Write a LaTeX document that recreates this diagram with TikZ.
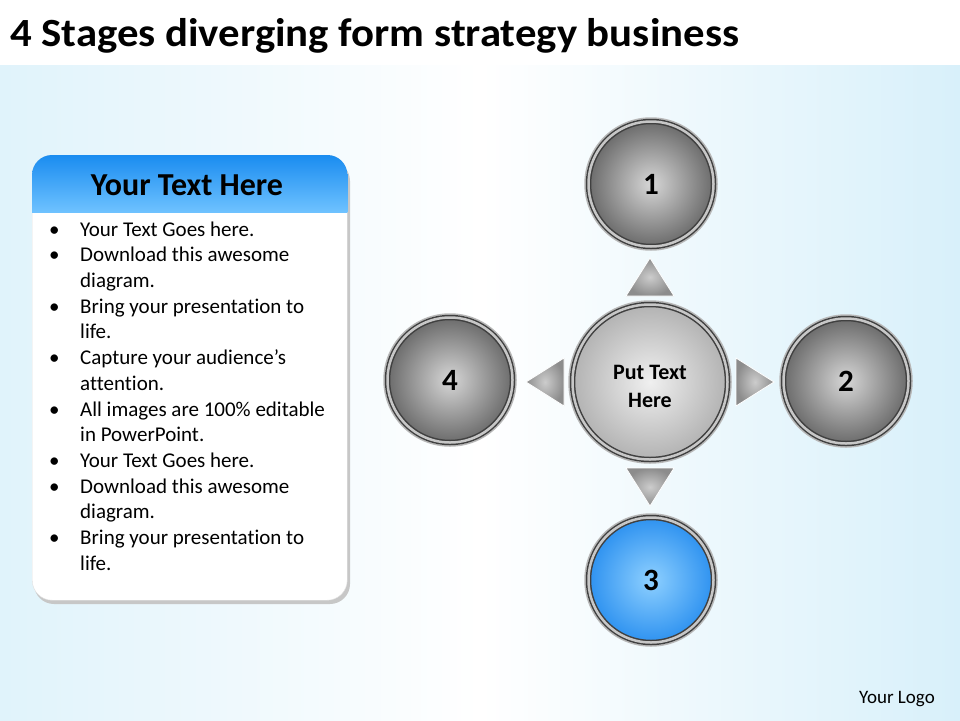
\documentclass[tikz,border=0pt]{standalone}
\usepackage{fontspec}
\setmainfont{Carlito}[Ligatures=NoCommon]
\usetikzlibrary{calc}
\definecolor{bgblue}{HTML}{D8F0FA}
\definecolor{headtop}{HTML}{1A8CF0}
\definecolor{headbot}{HTML}{6EC2FF}
\definecolor{ballblue}{HTML}{2E92F0}
\definecolor{ballhi}{HTML}{8ED0FF}

\tikzset{
  stage/.style={circle, minimum size=#1, inner sep=0pt, draw=black!75,
    line width=1.5pt, double=black!22, double distance=2.5pt},
  greyball/.style={shade, inner color=black!16, outer color=black!58},
  blueball/.style={shade, inner color=ballhi, outer color=ballblue},
  midball/.style={shade, inner color=black!6, outer color=black!30},
  halo/.style={draw=black!28, line width=1.5pt},
  pointer/.style={shade, inner color=black!20, outer color=black!45, draw=white, line width=0.8pt},
  numtext/.style={font=\bfseries\fontsize{31}{31}\selectfont},
}

\begin{document}
\begin{tikzpicture}[x=1pt,y=-1pt]
  %%%%% BACKGROUND %%%%%
  \useasboundingbox (0,0) rectangle (960,720);
  \shade[left color=bgblue!80, right color=bgblue, middle color=white] (0,65) rectangle (960,720);
  \fill[white] (0,0) rectangle (960,65);

  \node[anchor=base west, inner sep=0pt, font=\bfseries\fontsize{40}{40}\selectfont] (title) at (10,46)
    {\scalebox{1.07}[1]{4 Stages diverging form strategy business}};

  %%%%% TEXT PANEL %%%%%
  \fill[black!22, rounded corners=20] (34,161) rectangle (350,604);
  \node[draw=black!12, fill=white, rounded corners=20, anchor=north west,
    minimum width=315, minimum height=445] (panel) at (32,155) {};
  \begin{scope}
    \clip[rounded corners=20] (panel.north west) rectangle (panel.south east);
    \shade[top color=headtop, bottom color=headbot] (panel.north west) rectangle ($(panel.north east)+(0,57)$);
  \end{scope}
  \node[font=\bfseries\fontsize{32}{32}\selectfont] (head) at (187,185) {Your Text Here};

  \node[anchor=north west, inner sep=0pt, font=\fontsize{21}{25.7}\selectfont] (list) at (49,218) {%
    \begin{tabular}{@{}p{31pt}@{}l@{}}
      \textbullet & Your Text Goes here.\\
      \textbullet & Download this awesome\\
                  & diagram.\\
      \textbullet & Bring your presentation to\\
                  & life.\\
      \textbullet & Capture your audience’s\\
                  & attention.\\
      \textbullet & All images are 100\% editable\\
                  & in PowerPoint.\\
      \textbullet & Your Text Goes here.\\
      \textbullet & Download this awesome\\
                  & diagram.\\
      \textbullet & Bring your presentation to\\
                  & life.
    \end{tabular}};

  %%%%% STAGES %%%%%
  \coordinate (c0) at (650,382);
  \coordinate (c1) at (651,184);
  \coordinate (c2) at (846,381);
  \coordinate (c3) at (651,580);
  \coordinate (c4) at (450,380);

  \draw[halo] (c0) circle (81);
  \foreach \c in {c1,c2,c3,c4}
    \draw[halo] (\c) circle (66);

  \foreach \a in {0,90,180,270}{
    \begin{scope}[shift={(c0)}, rotate=\a]
      \shade[pointer] (86,-24) -- (124,0) -- (86,24) -- cycle;
    \end{scope}
  }

  \node[stage=155, midball,
    label={[align=center, yshift=-4pt, font=\bfseries\fontsize{22}{28}\selectfont]center:{Put Text\\Here}}] (ctr) at (c0) {};
  \node[stage=125, greyball, numtext] (s1) at (c1) {1};
  \node[stage=125, greyball, numtext] (s2) at (c2) {2};
  \node[stage=125, blueball, numtext] (s3) at (c3) {3};
  \node[stage=125, greyball, numtext] (s4) at (c4) {4};

  \node[font=\fontsize{19}{19}\selectfont] (logo) at (897,699) {Your Logo};
\end{tikzpicture}
\end{document}
